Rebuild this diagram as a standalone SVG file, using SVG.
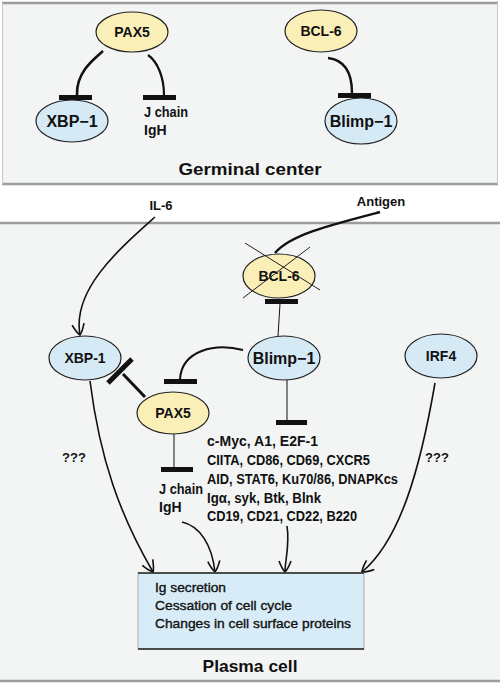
<svg xmlns="http://www.w3.org/2000/svg" width="500" height="685" viewBox="0 0 500 685">
<defs>
<style>
.panel{fill:#f3f5f5;stroke:none}
.edge{stroke:#9a9c9e;stroke-width:2.5}
.yel{fill:#fbefb8;stroke:#222;stroke-width:1.2}
.blu{fill:#d6eaf6;stroke:#222;stroke-width:1.2}
.lbl{font-family:"Liberation Sans",Arial,sans-serif;font-weight:bold;fill:#111;text-anchor:middle}
.txt{font-family:"Liberation Sans",Arial,sans-serif;font-weight:bold;fill:#111}
.box{font-family:"Liberation Sans",Arial,sans-serif;font-size:13px;fill:#111;stroke:#111;stroke-width:0.35}
.bar{fill:#111}
.thin{fill:none;stroke:#111;stroke-width:1}
.arr{fill:none;stroke:#111;stroke-width:1.6;marker-end:url(#ah)}
</style>
<marker id="ah" viewBox="-12 -8 14 16" refX="0" refY="0" markerWidth="14" markerHeight="16" markerUnits="userSpaceOnUse" orient="auto">
<path d="M-11,-6 Q-3,-3 0,0 Q-3,3 -11,6" fill="none" stroke="#111" stroke-width="1.6"/>
</marker>
</defs>

<!-- panels -->
<rect class="panel" x="2" y="3" width="496" height="181"/>
<line class="edge" x1="2" y1="3" x2="498" y2="3"/>
<line class="edge" x1="2" y1="184" x2="498" y2="184"/>
<line x1="2.5" y1="3" x2="2.5" y2="184" stroke="#c8caca" stroke-width="1"/>
<line x1="497.5" y1="3" x2="497.5" y2="184" stroke="#c8caca" stroke-width="1"/>
<rect class="panel" x="0" y="223" width="500" height="458"/>
<line class="edge" x1="0" y1="223" x2="500" y2="223"/>
<line class="edge" x1="0" y1="681" x2="500" y2="681"/>

<!-- connectors -->
<g id="connectors">
  <!-- top panel -->
  <path d="M103,51 C95,58 76,72 77,95" fill="none" stroke="#111" stroke-width="2.6"/>
  <rect class="bar" x="59" y="95" width="33" height="5"/>
  <path d="M148,55 C158,62 164,78 164,95" fill="none" stroke="#111" stroke-width="2.2"/>
  <rect class="bar" x="143" y="95" width="33" height="5"/>
  <path d="M328,58 C345,60 352,72 352,93" fill="none" stroke="#111" stroke-width="2.4"/>
  <rect class="bar" x="338" y="93" width="33" height="5"/>

  <!-- bottom panel -->
  <path class="arr" d="M155,217 C118,250 72,290 80,335" stroke-width="2.6"/>
  <path d="M380,212 C330,225 290,235 275,253" fill="none" stroke="#111" stroke-width="2.4"/>
  <rect class="bar" x="265" y="299" width="33" height="5"/>
  <line class="thin" x1="280" y1="304" x2="278" y2="336"/>
  <path d="M243,350 C215,343 182,350 180,379" fill="none" stroke="#111" stroke-width="2"/>
  <rect class="bar" x="164" y="379" width="33" height="5"/>
  <line x1="145" y1="397" x2="123" y2="374" stroke="#111" stroke-width="3"/>
  <line x1="108" y1="383" x2="132" y2="359" stroke="#111" stroke-width="5"/>
  <line class="thin" x1="174" y1="434" x2="174" y2="468"/>
  <rect class="bar" x="161" y="467" width="32" height="5"/>
  <line class="thin" x1="287" y1="380" x2="287" y2="421"/>
  <rect class="bar" x="276" y="420" width="31" height="5"/>
  <path class="arr" d="M90,381 C100,460 120,515 153,572"/>
  <path class="arr" d="M182,522 C200,526 212,545 215,572" stroke-width="3"/>
  <path class="arr" d="M287,526 C290,545 285,560 285,572"/>
  <path class="arr" d="M435,383 C420,470 400,540 362,572" stroke-width="2"/>
</g>

<!-- top panel nodes -->
<g id="gc-pax5"><ellipse class="yel" cx="132" cy="32" rx="36" ry="20"/><text class="lbl" x="132" y="37" font-size="14">PAX5</text></g>
<g id="gc-bcl6"><ellipse class="yel" cx="321" cy="31" rx="36" ry="21"/><text class="lbl" x="321" y="36" font-size="14">BCL-6</text></g>
<g id="gc-xbp1"><ellipse class="blu" cx="72" cy="121" rx="36" ry="21"/><text class="lbl" x="72" y="127" font-size="16">XBP−1</text></g>
<g id="gc-blimp1"><ellipse class="blu" cx="361" cy="121" rx="36" ry="23"/><text class="lbl" x="361" y="127" font-size="16">Blimp−1</text></g>
<g id="gc-jchain"><text class="txt" x="144" y="117" font-size="14" textLength="44" lengthAdjust="spacingAndGlyphs">J chain</text><text class="txt" x="144" y="135" font-size="14">IgH</text></g>
<text class="lbl" x="250" y="175" font-size="17" font-family="'DejaVu Sans',sans-serif" textLength="143" lengthAdjust="spacingAndGlyphs">Germinal center</text>

<!-- bottom panel nodes -->
<g id="il6"><text class="lbl" x="161" y="210" font-size="13">IL-6</text></g>
<g id="antigen"><text class="lbl" x="381" y="206" font-size="13">Antigen</text></g>
<g id="pc-bcl6"><ellipse class="yel" cx="279" cy="276" rx="36" ry="22"/><text class="lbl" x="279" y="281" font-size="14">BCL-6</text>
  <line x1="245" y1="243" x2="320" y2="290" stroke="#222" stroke-width="1"/>
  <line x1="310" y1="247" x2="243" y2="298" stroke="#222" stroke-width="1"/>
</g>
<g id="pc-xbp1"><ellipse class="blu" cx="85" cy="358" rx="36" ry="22"/><text class="lbl" x="85" y="363" font-size="14">XBP-1</text></g>
<g id="pc-blimp1"><ellipse class="blu" cx="284" cy="358" rx="36" ry="22"/><text class="lbl" x="284" y="364" font-size="16">Blimp−1</text></g>
<g id="pc-irf4"><ellipse class="blu" cx="441" cy="356" rx="36" ry="22"/><text class="lbl" x="441" y="361" font-size="14">IRF4</text></g>
<g id="pc-pax5"><ellipse class="yel" cx="173" cy="413" rx="36" ry="21"/><text class="lbl" x="173" y="418" font-size="14">PAX5</text></g>
<g id="pc-jchain"><text class="txt" x="159" y="494" font-size="14" textLength="44" lengthAdjust="spacingAndGlyphs">J chain</text><text class="txt" x="159" y="512" font-size="14">IgH</text></g>
<g id="genes" font-size="14">
  <text class="txt" x="207" y="446" textLength="111" lengthAdjust="spacingAndGlyphs">c-Myc, A1, E2F-1</text>
  <text class="txt" x="207" y="465" textLength="163" lengthAdjust="spacingAndGlyphs">CIITA, CD86, CD69, CXCR5</text>
  <text class="txt" x="207" y="484" textLength="191" lengthAdjust="spacingAndGlyphs">AID, STAT6, Ku70/86, DNAPKcs</text>
  <text class="txt" x="207" y="503" textLength="114" lengthAdjust="spacingAndGlyphs">Igα, syk, Btk, Blnk</text>
  <text class="txt" x="207" y="521" textLength="150" lengthAdjust="spacingAndGlyphs">CD19, CD21, CD22, B220</text>
</g>
<text class="txt" x="62" y="462" font-size="13">???</text>
<text class="txt" x="425" y="462" font-size="13">???</text>

<g id="plasma-box">
  <rect x="138" y="573" width="226" height="76" fill="#d8ecf7" stroke="#999" stroke-width="0.8"/>
  <line x1="138" y1="573" x2="364" y2="573" stroke="#222" stroke-width="1.5"/>
  <line x1="138" y1="649" x2="364" y2="649" stroke="#222" stroke-width="1.5"/>
  <text class="box" x="155" y="592" textLength="71" lengthAdjust="spacingAndGlyphs">Ig secretion</text>
  <text class="box" x="155" y="610" textLength="137" lengthAdjust="spacingAndGlyphs">Cessation of cell cycle</text>
  <text class="box" x="155" y="628" textLength="196" lengthAdjust="spacingAndGlyphs">Changes in cell surface proteins</text>
</g>
<text class="lbl" x="250" y="672" font-size="17" font-family="'DejaVu Sans',sans-serif" textLength="95" lengthAdjust="spacingAndGlyphs">Plasma cell</text>
</svg>
